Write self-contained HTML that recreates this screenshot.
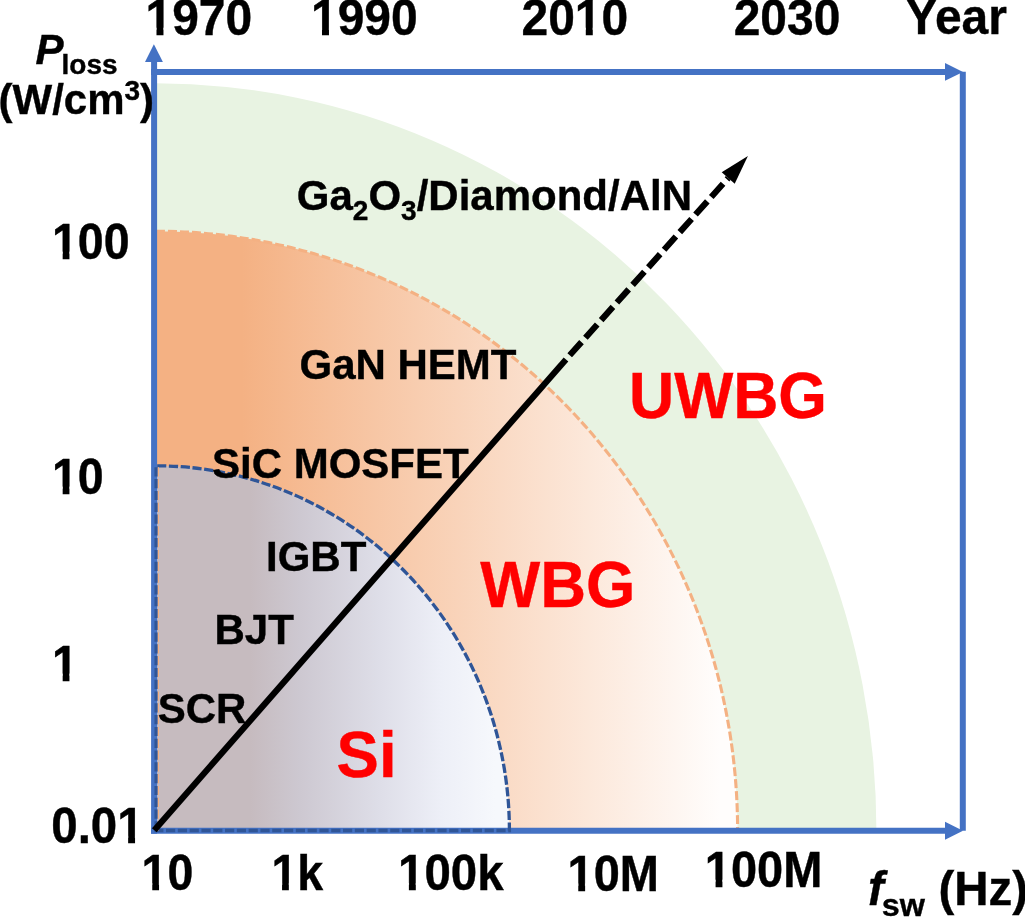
<!DOCTYPE html>
<html lang="en">
<head>
<meta charset="utf-8">
<title>Power device roadmap: Si, WBG, UWBG</title>
<style>
html,body{margin:0;padding:0;background:#ffffff;}
body{width:1025px;height:917px;overflow:hidden;}
svg{display:block;}
text{font-family:"Liberation Sans",Arial,Helvetica,sans-serif;font-weight:bold;}
.n{font-size:47px;fill:#000;stroke:#000;stroke-width:0.4px;}
.l{font-size:42px;fill:#000;stroke:#000;stroke-width:0.4px;}
.r{font-size:63.5px;fill:#ff0000;stroke:#ff0000;stroke-width:0.4px;}
.sub{font-size:28px;}
.n .sub{font-size:32px;}
.it{font-style:italic;}
</style>
</head>
<body>
<svg width="1025" height="917" viewBox="0 0 1025 917">
<defs>
<linearGradient id="gw" gradientUnits="userSpaceOnUse" x1="157" y1="0" x2="738" y2="0">
<stop offset="0" stop-color="#F4B183"/>
<stop offset="0.146" stop-color="#F4B183"/>
<stop offset="0.969" stop-color="#FFFDFC"/>
<stop offset="1" stop-color="#FFFDFC"/>
</linearGradient>
<linearGradient id="gs" gradientUnits="userSpaceOnUse" x1="156" y1="0" x2="510" y2="0">
<stop offset="0.0" stop-color="#C6BBBF"/>
<stop offset="0.2655" stop-color="#C6BBBF"/>
<stop offset="0.4068" stop-color="#CDC8D1"/>
<stop offset="0.6328" stop-color="#DEDEE8"/>
<stop offset="0.8051" stop-color="#EDEFF7"/>
<stop offset="0.9576" stop-color="#F6F8FC"/>
<stop offset="1.0" stop-color="#F6F8FC"/>
</linearGradient>
</defs>
<rect x="0" y="0" width="1025" height="917" fill="#ffffff"/>
<!-- UWBG region -->
<path d="M156 830.5 L156 83.3 A720.4 747.2 0 0 1 876.4 830.5 Z" fill="#E8F3E2"/>
<!-- WBG region -->
<path d="M156 830.5 L156 231.2 A581.6 599.3 0 0 1 737.6 830.5 Z" fill="url(#gw)"/>
<path d="M156 231.2 A581.6 599.3 0 0 1 737.6 830.5" fill="none" stroke="#F4B183" stroke-width="3.1" stroke-dasharray="9 3"/>
<!-- Si region fill -->
<path d="M156.1 830.5 L156.1 465.8 A353.3 364.7 0 0 1 509.4 830.5 Z" fill="url(#gs)"/>
<!-- axes frame -->
<g fill="none" stroke="#4472C4" stroke-width="6">
<path d="M154.1 833.8 L154.1 60"/>
<path d="M151.1 71.9 L946 71.9"/>
<path d="M962.8 71.7 L962.8 830.8"/>
<path d="M151.1 830.8 L946 830.8"/>
</g>
<g fill="#4472C4">
<path d="M153.9 44.2 L162.9 62 L145 62 Z"/>
<path d="M963 71.9 L945 62.9 L945 80.8 Z"/>
<path d="M963 830.8 L945 821.8 L945 839.8 Z"/>
</g>
<!-- Si outline (dashed, drawn over the axes) -->
<path d="M156.1 830.5 L156.1 465.8 A353.3 364.7 0 0 1 509.4 830.5 Z" fill="none" stroke="#2F5597" stroke-width="3.3" stroke-dasharray="9.2 2.6"/>
<path d="M158.4 830.5 L158.4 467" fill="none" stroke="#F4B183" stroke-width="1.2" stroke-dasharray="9.2 2.6"/>
<!-- trend arrow -->
<path d="M154.3 830.3 L566 359.5" stroke="#000" stroke-width="6.2" fill="none"/>
<path d="M569.7 355.3 L728.2 178" stroke="#000" stroke-width="6.2" stroke-dasharray="17.7 5.9" fill="none"/>
<path d="M747.9 156 L721.7 172.2 L734.7 183.8 Z" fill="#000"/>
<!-- top axis (year) labels -->
<g transform="translate(145.5 34.8) scale(1.02 1.045)"><text class="n">1970</text><rect x="1.76" y="-6.80" width="9.01" height="9.30" fill="#fff"/><rect x="17.62" y="-6.80" width="8.41" height="9.30" fill="#fff"/></g>
<g transform="translate(311 34.8) scale(1.02 1.045)"><text class="n">1990</text><rect x="1.76" y="-6.80" width="9.01" height="9.30" fill="#fff"/><rect x="17.62" y="-6.80" width="8.41" height="9.30" fill="#fff"/></g>
<g transform="translate(521.5 34.8) scale(1.02 1.045)"><text class="n">2010</text><rect x="54.01" y="-6.80" width="9.01" height="9.30" fill="#fff"/><rect x="69.87" y="-6.80" width="8.41" height="9.30" fill="#fff"/></g>
<text class="n" transform="translate(733.7 34.8) scale(1.02 1.045)">2030</text>
<text class="n" transform="translate(905.6 34) scale(1.02 1.045)">Year</text>
<!-- y axis title and labels -->
<text class="l" transform="translate(35.4 63.7) scale(1.0 1.0)"><tspan class="it">P</tspan><tspan class="sub" dx="-1.9" dy="10.2">loss</tspan></text>
<text class="l" transform="translate(-1.5 113.9) scale(1.0 1.0)">(W/cm<tspan class="sub" dy="-14">3</tspan><tspan dy="14">)</tspan></text>
<g transform="translate(52 258.7) scale(0.99 1.045)"><text class="n">100</text><rect x="1.76" y="-6.80" width="9.01" height="9.30" fill="#fff"/><rect x="17.62" y="-6.80" width="8.41" height="9.30" fill="#fff"/></g>
<g transform="translate(52 493.7) scale(0.99 1.045)"><text class="n">10</text><rect x="1.76" y="-6.80" width="9.01" height="9.30" fill="#fff"/><rect x="17.62" y="-6.80" width="8.41" height="9.30" fill="#fff"/></g>
<g transform="translate(52 680.7) scale(0.99 1.045)"><text class="n">1</text><rect x="1.76" y="-6.80" width="9.01" height="9.30" fill="#fff"/><rect x="17.62" y="-6.80" width="8.41" height="9.30" fill="#fff"/></g>
<g transform="translate(51.3 842.9) scale(1.01 1.045)"><text class="n">0.01</text><rect x="67.06" y="-6.80" width="9.01" height="9.30" fill="#fff"/><rect x="82.92" y="-6.80" width="8.41" height="9.30" fill="#fff"/></g>
<!-- x axis labels and title -->
<g transform="translate(141.6 890.2) scale(0.99 1.045)"><text class="n">10</text><rect x="1.76" y="-6.80" width="9.01" height="9.30" fill="#fff"/><rect x="17.62" y="-6.80" width="8.41" height="9.30" fill="#fff"/></g>
<g transform="translate(271.4 890.2) scale(0.99 1.045)"><text class="n">1k</text><rect x="1.76" y="-6.80" width="9.01" height="9.30" fill="#fff"/><rect x="17.62" y="-6.80" width="8.41" height="9.30" fill="#fff"/></g>
<g transform="translate(398 890.2) scale(1.01 1.045)"><text class="n">100k</text><rect x="1.76" y="-6.80" width="9.01" height="9.30" fill="#fff"/><rect x="17.62" y="-6.80" width="8.41" height="9.30" fill="#fff"/></g>
<g transform="translate(567.5 890.6) scale(1.0 1.045)"><text class="n">10M</text><rect x="1.76" y="-6.80" width="9.01" height="9.30" fill="#fff"/><rect x="17.62" y="-6.80" width="8.41" height="9.30" fill="#fff"/></g>
<g transform="translate(704.8 886.8) scale(1.0 1.045)"><text class="n">100M</text><rect x="1.76" y="-6.80" width="9.01" height="9.30" fill="#fff"/><rect x="17.62" y="-6.80" width="8.41" height="9.30" fill="#fff"/></g>
<text class="n" transform="translate(868 905) scale(1.01 1.006)"><tspan class="it">f</tspan><tspan class="sub" dx="-2" dy="11">sw</tspan><tspan dx="0.3" dy="-11"> (Hz)</tspan></text>
<!-- device labels -->
<text class="l" transform="translate(296.8 209.7) scale(1.0 1.0)">Ga<tspan class="sub" dy="10.2">2</tspan><tspan dy="-10.2">O</tspan><tspan class="sub" dy="10.2">3</tspan><tspan dy="-10.2">/Diamond/AlN</tspan></text>
<text class="l" transform="translate(299.5 378.7) scale(1.0 1.0)">GaN HEMT</text>
<text class="l" transform="translate(212 478) scale(1.0 1.0)">SiC MOSFET</text>
<text class="l" transform="translate(266 570.6) scale(1.0 1.0)">IGBT</text>
<text class="l" transform="translate(214.5 643.6) scale(1.0 1.0)">BJT</text>
<text class="l" transform="translate(157.7 722.8) scale(1.0 1.0)">SCR</text>
<!-- region labels -->
<text class="r" transform="translate(629 417.6) scale(0.985 1.015)">UWBG</text>
<text class="r" transform="translate(480.3 606.7) scale(1.0 1.035)">WBG</text>
<text class="r" transform="translate(336.6 776.7) scale(1.0 1.035)">Si</text>
</svg>
</body>
</html>
